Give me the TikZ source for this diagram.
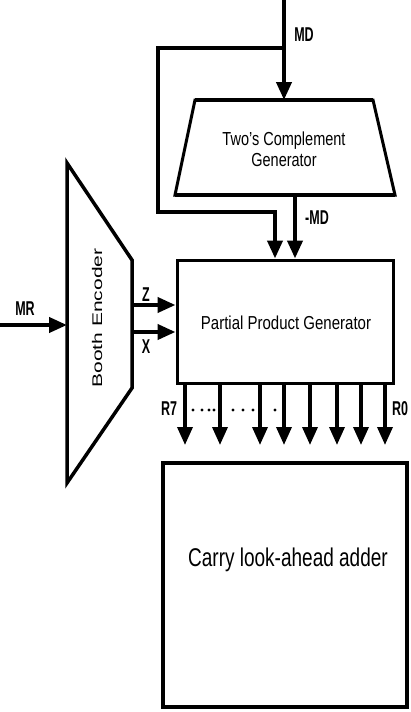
\documentclass[tikz,border=0pt]{standalone}
\usepackage{graphicx}
\usepackage{fontspec}
\setmainfont{Liberation Sans}
\usetikzlibrary{arrows.meta}
\newcommand{\tall}[2][1.3]{\scalebox{1}[#1]{#2}}
\tikzset{
  bus/.style={line width=4pt,-{Triangle[length=18pt,width=15pt]}},
  blk/.style={draw,line width=3pt},
  lbl/.style={inner sep=0.75pt,font=\bfseries\fontsize{12.5}{14}\selectfont},
}

\begin{document}
\begin{tikzpicture}[x=1pt,y=1pt,yscale=-1,xscale=1]
\useasboundingbox (0,0) rectangle (410,712);

%Shape: Two's complement trapezoid
\coordinate (tc-tl) at (195,100);
\coordinate (tc-tr) at (373,100);
\coordinate (tc-br) at (395,195);
\coordinate (tc-bl) at (175,195);
\draw [line width=3pt,line join=miter] (tc-tl) -- (tc-tr) -- (tc-br) -- (tc-bl) -- cycle ;
\draw [line width=4.5pt] (tc-tl) -- (tc-tr) (tc-bl) -- (tc-br) ;
% Text Node
\node (tcg) [inner sep=0.75pt,align=center,font=\fontsize{14.5}{17}\selectfont] at (284,149) {\tall{Two's Complement}\\[3pt]\tall{Generator}};

%Shape: Booth encoder
\coordinate (be-tl) at (67,163);
\coordinate (be-tr) at (132,260);
\coordinate (be-br) at (132,388);
\coordinate (be-bl) at (67,483);
\draw [line width=3.5pt,line join=miter] (be-tl) -- (be-tr) -- (be-br) -- (be-bl) -- cycle ;
% Text Node
\node (bet) [rotate=90,inner sep=0.75pt,font=\fontsize{14}{16}\selectfont] at (97,318) {\scalebox{1.5}[1]{Booth Encoder}};

%Shape: Partial product generator
\node (ppg) [blk,minimum width=216pt,minimum height=123pt] at (285,321.5) {};
\node (ppgt) [inner sep=0.75pt,font=\fontsize{15}{18}\selectfont] at (286,323) {\tall[1.25]{Partial Product Generator}};

%Shape: Carry look-ahead adder
\node (cla) [draw,line width=4pt,minimum width=244pt,minimum height=244pt] at (285,585) {};
\node (clat) [inner sep=0.75pt,font=\fontsize{19}{22}\selectfont] at (288,560) {\tall[1.35]{Carry look-ahead adder}};

%Straight Lines: MD in and branch
\coordinate (mdin) at (284,0);
\coordinate (split) at (284,48);
\draw [bus] (mdin) -- (mdin |- tc-tl) ;
\draw [bus,line join=miter] (split) -- (158,48) -- (158,212) -- (275,212) -- (ppg.north -| 275,0) ;
%Straight Lines: -MD
\draw [bus] (tc-bl -| 295,0) -- (ppg.north -| 295,0) ;

%Straight Lines: MR, Z, X
\coordinate (mrin) at (0,325);
\draw [bus] (mrin) -- (mrin -| be-tl) ;
\draw [bus] (be-tr |- 0,305) -- (ppg.west |- 0,305) ;
\draw [bus] (be-tr |- 0,332) -- (ppg.west |- 0,332) ;

%Straight Lines: R7 ... R0
\foreach \xx in {185,220,260,284,310,337,361,385}
  \draw [bus,line width=3.5pt,shorten >=16pt] (ppg.south -| \xx,0) -- (cla.north -| \xx,0) ;
%Dots
\foreach \xx in {193,202,209,214,233,243,253,275}
  \fill (\xx,410) circle (1.6pt) ;

% Text Node
\node (mdl) [lbl] at (304,35) {\tall[1.6]{MD}};
\node (nmdl) [lbl] at (317,218) {\tall[1.6]{-MD}};
\node (mrl) [lbl] at (25,309) {\tall[1.6]{MR}};
\node (zl) [lbl] at (146,295) {\tall[1.6]{Z}};
\node (xl) [lbl] at (146,347) {\tall[1.6]{X}};
\node (r7l) [lbl] at (169,409) {\tall[1.6]{R7}};
\node (r0l) [lbl] at (400,409) {\tall[1.6]{R0}};

\end{tikzpicture}
\end{document}
